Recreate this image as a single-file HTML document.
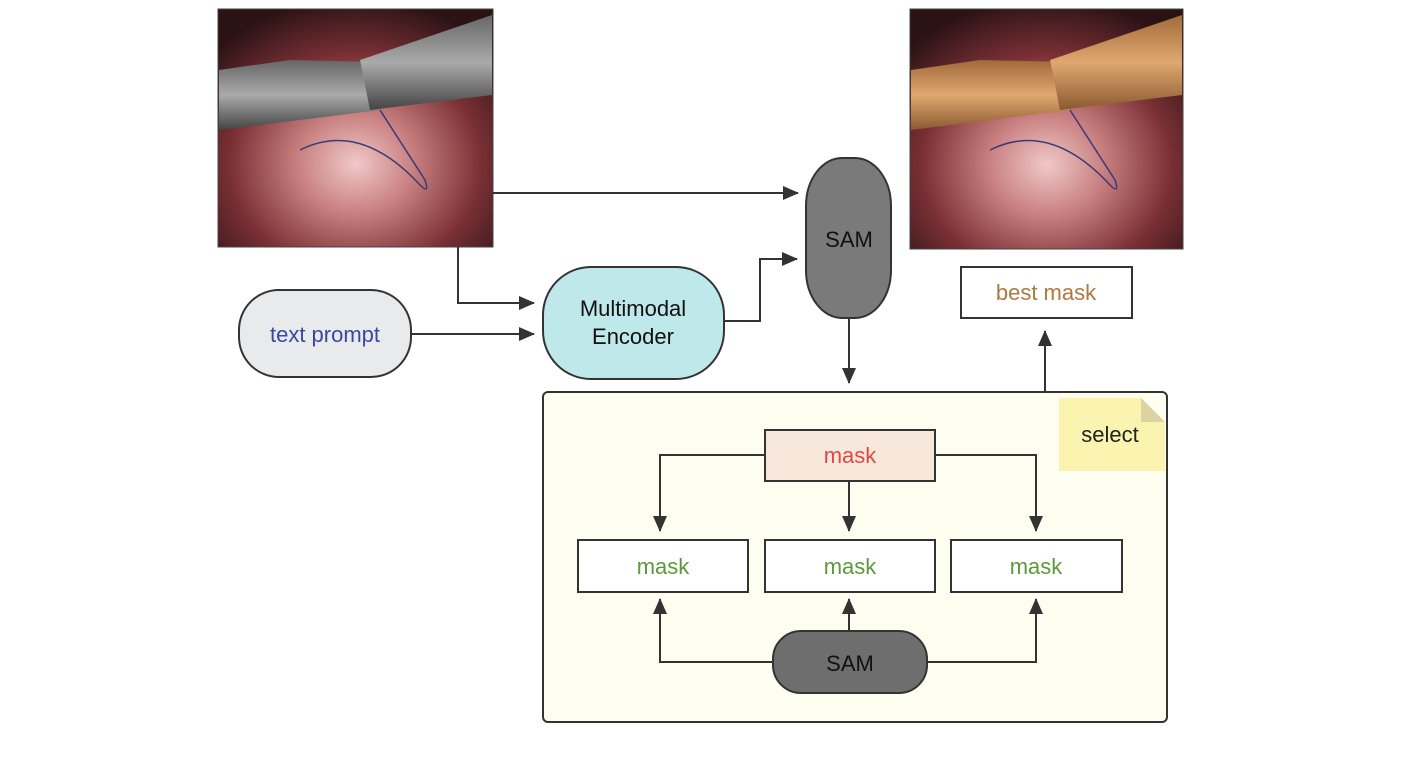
<!DOCTYPE html>
<html><head><style>
body{margin:0;background:#fff;}
svg text{font-family:"Liberation Sans","DejaVu Sans",sans-serif;}
</style></head><body>
<svg width="1409" height="761" viewBox="0 0 1409 761" xmlns="http://www.w3.org/2000/svg">
<defs>
<marker id="a" markerWidth="16" markerHeight="14" refX="15" refY="7" orient="auto" markerUnits="userSpaceOnUse" viewBox="0 0 16 14"><path d="M0,0 L16,7 L0,14 z" fill="#333"/></marker>
<radialGradient id="tis" cx="0.5" cy="0.65" r="0.7"><stop offset="0" stop-color="#f0c8c8"/><stop offset="0.3" stop-color="#c98080"/><stop offset="0.65" stop-color="#7a3035"/><stop offset="1" stop-color="#2a1215"/></radialGradient>
<linearGradient id="tool" x1="0" y1="0" x2="0" y2="1"><stop offset="0" stop-color="#666"/><stop offset="0.5" stop-color="#aaa"/><stop offset="1" stop-color="#444"/></linearGradient>
<linearGradient id="tool2" x1="0" y1="0" x2="0" y2="1"><stop offset="0" stop-color="#a06a3a"/><stop offset="0.5" stop-color="#e0a870"/><stop offset="1" stop-color="#8a5a30"/></linearGradient>
</defs>
<g stroke="#333" stroke-width="2" fill="none">
<rect x="218" y="9" width="275" height="238" fill="url(#tis)" stroke="#444" stroke-width="1"/>
<path d="M219,70 L290,60 L380,62 L380,110 L300,120 L219,130 z" fill="url(#tool)" stroke="none"/>
<path d="M360,60 L492,15 L492,95 L370,110 z" fill="url(#tool)" stroke="none"/>
<path d="M300,150 Q360,120 420,185 Q430,195 425,180 L380,110" stroke="#3a3a7a" stroke-width="1.5"/>
<rect x="910" y="9" width="273" height="240" fill="url(#tis)" stroke="#444" stroke-width="1"/>
<path d="M911,70 L980,60 L1070,62 L1070,110 L990,120 L911,130 z" fill="url(#tool2)" stroke="none"/>
<path d="M1050,60 L1182,15 L1182,95 L1060,110 z" fill="url(#tool2)" stroke="none"/>
<path d="M990,150 Q1050,120 1110,185 Q1120,195 1115,180 L1070,110" stroke="#3a3a7a" stroke-width="1.5"/>

<line x1="493" y1="193" x2="798" y2="193" marker-end="url(#a)"/>
<polyline points="458,247 458,303 534,303" marker-end="url(#a)"/>
<line x1="411" y1="334" x2="534" y2="334" marker-end="url(#a)"/>
<polyline points="724,321 760,321 760,259 797,259" marker-end="url(#a)"/>
<line x1="849" y1="318" x2="849" y2="383" marker-end="url(#a)"/>

<rect x="239" y="290" width="172" height="87" rx="40" fill="#e8eaec"/>
<rect x="543" y="267" width="181" height="112" rx="48" fill="#bfe8ea"/>
<rect x="806" y="158" width="85" height="160" rx="36" ry="48" fill="#7a7a7a"/>

<rect x="543" y="392" width="624" height="330" rx="5" fill="#fefef0"/>
<line x1="1045" y1="392" x2="1045" y2="331" marker-end="url(#a)"/>
<rect x="961" y="267" width="171" height="51" fill="#fff"/>
<path d="M1059,398 L1141,398 L1165,422 L1165,471 L1059,471 z" fill="#fbf3b0" stroke="none"/>
<path d="M1141,398 L1165,422 L1141,422 z" fill="#ddd3a0" stroke="none"/>

<polyline points="765,455 660,455 660,531" marker-end="url(#a)"/>
<line x1="849" y1="481" x2="849" y2="531" marker-end="url(#a)"/>
<polyline points="935,455 1036,455 1036,531" marker-end="url(#a)"/>
<polyline points="773,662 660,662 660,599" marker-end="url(#a)"/>
<line x1="849" y1="631" x2="849" y2="599" marker-end="url(#a)"/>
<polyline points="927,662 1036,662 1036,599" marker-end="url(#a)"/>

<rect x="765" y="430" width="170" height="51" fill="#f8e8dc"/>
<rect x="578" y="540" width="170" height="52" fill="#fff"/>
<rect x="765" y="540" width="170" height="52" fill="#fff"/>
<rect x="951" y="540" width="171" height="52" fill="#fff"/>
<rect x="773" y="631" width="154" height="62" rx="28" fill="#6e6e6e"/>
</g>
<g font-size="22" text-anchor="middle">
<text x="325" y="342" fill="#3a49a0">text prompt</text>
<text x="633" y="316" fill="#111">Multimodal</text>
<text x="633" y="344" fill="#111">Encoder</text>
<text x="849" y="247" fill="#111">SAM</text>
<text x="1046" y="300" fill="#b07840">best mask</text>
<text x="1110" y="442" fill="#222">select</text>
<text x="850" y="463" fill="#e04848">mask</text>
<text x="663" y="574" fill="#5a9a3a">mask</text>
<text x="850" y="574" fill="#5a9a3a">mask</text>
<text x="1036" y="574" fill="#5a9a3a">mask</text>
<text x="850" y="671" fill="#111">SAM</text>
</g>
</svg>
</body></html>
